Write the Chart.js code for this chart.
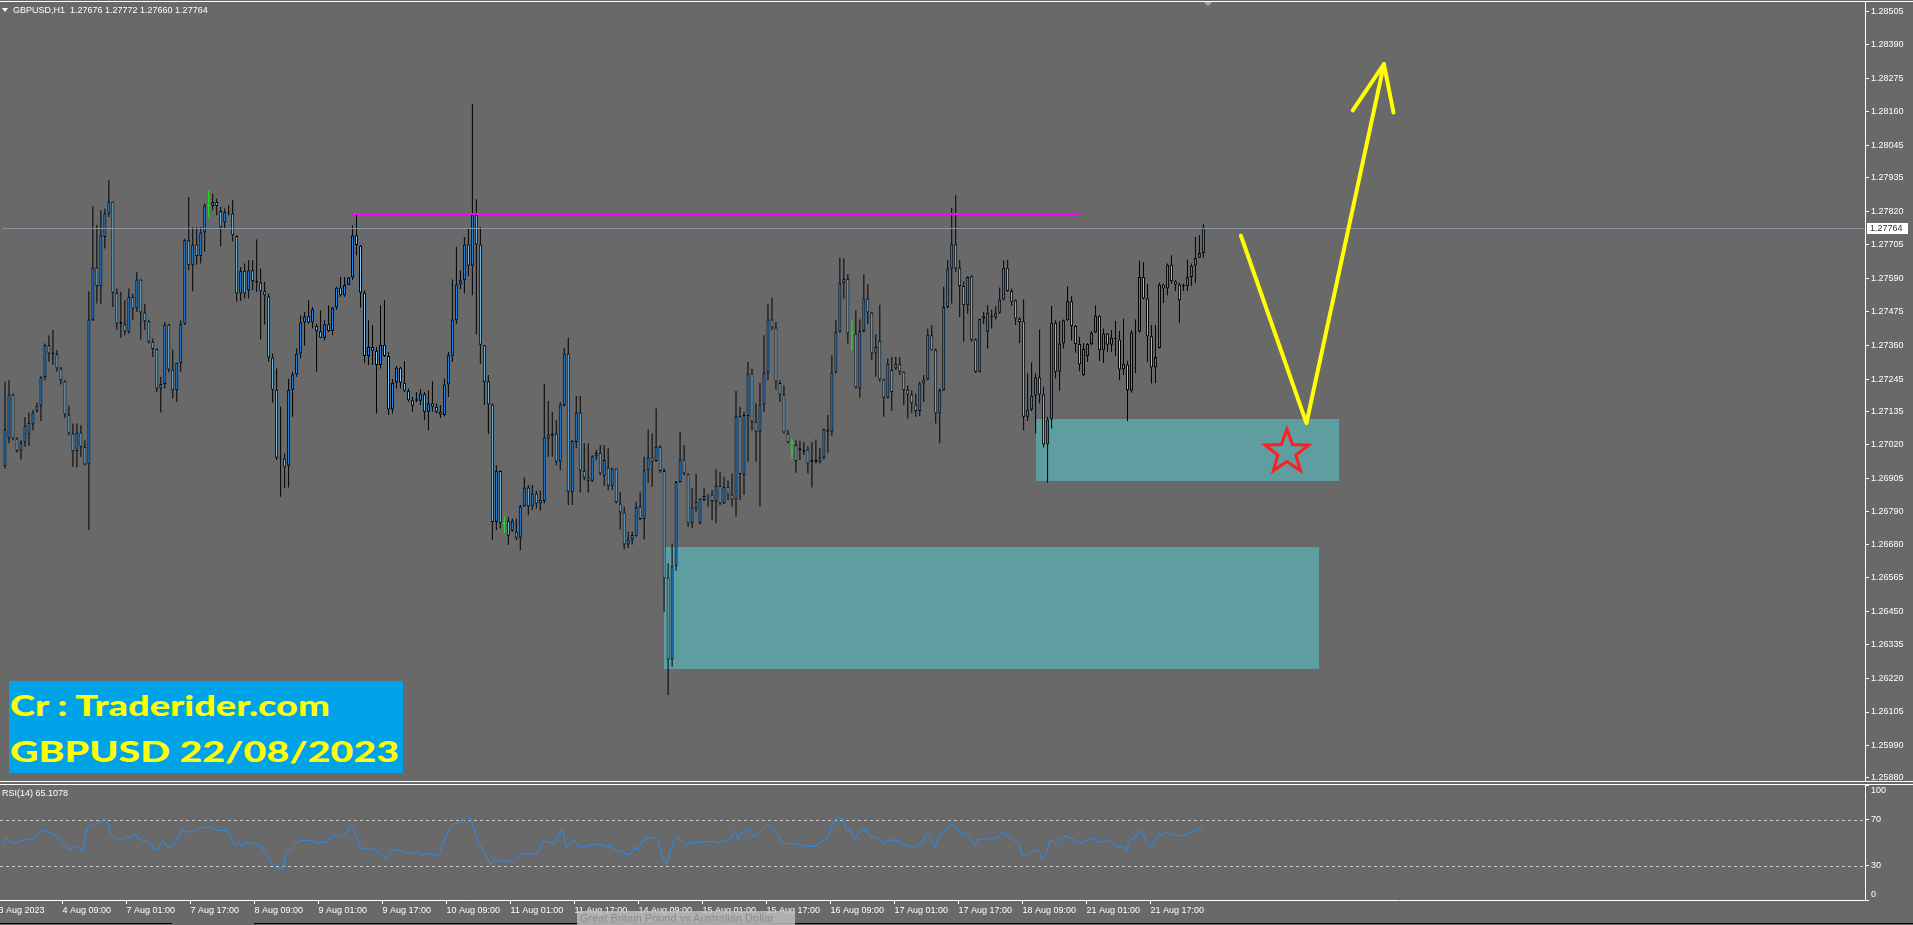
<!DOCTYPE html>
<html><head><meta charset="utf-8">
<script src="https://cdn.jsdelivr.net/npm/chart.js@4.4.1/dist/chart.umd.min.js"></script>
<style>
html,body{margin:0;padding:0;background:#696969;overflow:hidden;}
#wrap{position:relative;width:1913px;height:925px;background:#696969;}
canvas{position:absolute;left:0;top:0;}
.t{position:absolute;font-family:"Liberation Sans",Arial,sans-serif;font-size:9px;color:#fff;white-space:nowrap;line-height:11px;}
.hl{position:absolute;height:1px;background:#fff;}
#wm{position:absolute;left:9px;top:681px;width:394px;height:92px;background:#00a2e8;}
.wmt{position:absolute;left:1px;font-family:"Lato","DejaVu Sans",sans-serif;font-weight:900;font-size:29px;line-height:29px;color:#ffff00;white-space:nowrap;transform-origin:0 0;}
#tip{position:absolute;left:577px;top:911px;width:218px;height:14px;background:#bdbdbd;opacity:0.85;}
#tipt{position:absolute;left:580px;top:912px;font-family:"Liberation Sans",Arial,sans-serif;font-size:11px;line-height:13px;color:#8c8c8c;white-space:nowrap;}
</style></head>
<body>
<div id="wrap">
<canvas id="main" width="1913" height="925"></canvas>
<canvas id="rsi" width="1913" height="925"></canvas>
<div class="hl" style="left:0;top:1px;width:1913px;"></div>
<div class="hl" style="left:0;top:781px;width:1913px;"></div>
<div class="hl" style="left:0;top:784px;width:1913px;"></div>
<div class="hl" style="left:0;top:923px;width:172px;background:#000;"></div>
<div class="hl" style="left:254px;top:923px;width:1659px;background:#000;"></div>
<div style="position:absolute;left:2px;top:8px;width:0;height:0;border-left:3px solid transparent;border-right:3px solid transparent;border-top:4px solid #fff;"></div>
<div class="t" style="left:13px;top:5px;">GBPUSD,H1&nbsp; 1.27676 1.27772 1.27660 1.27764</div>
<div class="t" style="left:2px;top:788px;">RSI(14) 65.1078</div>
<div id="wm">
  <div class="wmt" id="wm1" style="top:9px;">Cr : Traderider.com</div>
  <div class="wmt" id="wm2" style="top:55px;">GBPUSD 22/08/2023</div>
</div>
<div id="tip"></div>
<div id="tipt">Great Britain Pound vs Australian Dollar</div>
</div>
<script>
// ---------- DATA ----------
const openP = [
1.26947,1.27042,1.27192,1.27042,1.27000,1.27028,1.27055,1.27090,1.27135,1.27154,
1.27251,1.27361,1.27335,1.27330,1.27281,1.27238,1.27124,1.27059,1.26998,1.27062,
1.27013,1.26953,1.27447,1.27627,1.27563,1.27732,1.27812,1.27853,1.27541,1.27435,
1.27433,1.27407,1.27527,1.27487,1.27586,1.27473,1.27443,1.27373,1.27348,1.27213,
1.27228,1.27432,1.27278,1.27207,1.27301,1.27435,1.27721,1.27635,1.27706,1.27667,
1.27747,1.27840,1.27838,1.27852,1.27821,1.27781,1.27815,1.27812,1.27735,1.27538,
1.27616,1.27549,1.27618,1.27581,1.27576,1.27546,1.27529,1.27319,1.27209,1.26976,
1.26973,1.26948,1.27209,1.27261,1.27333,1.27439,1.27460,1.27439,1.27427,1.27409,
1.27387,1.27433,1.27410,1.27490,1.27559,1.27532,1.27567,1.27593,1.27738,1.27702,
1.27541,1.27324,1.27355,1.27342,1.27293,1.27363,1.27324,1.27141,1.27233,1.27284,
1.27233,1.27205,1.27173,1.27171,1.27171,1.27193,1.27133,1.27162,1.27150,1.27133,
1.27122,1.27227,1.27325,1.27447,1.27569,1.27584,1.27706,1.27633,1.27808,1.27706,
1.27361,1.27238,1.27158,1.26756,1.26930,1.26751,1.26760,1.26726,1.26722,1.26702,
1.26810,1.26874,1.26810,1.26853,1.26819,1.26828,1.27042,1.27051,1.27059,1.26962,
1.27156,1.27333,1.26857,1.27030,1.27131,1.26931,1.26908,1.26897,1.26981,1.26993,
1.26914,1.26942,1.26880,1.26939,1.26819,1.26788,1.26679,1.26696,1.26709,1.26810,
1.26766,1.26933,1.26977,1.26965,1.27013,1.26930,1.26566,1.26285,1.26606,1.26893,
1.26970,1.26919,1.26751,1.26802,1.26751,1.26831,1.26848,1.26850,1.26825,1.26880,
1.26819,1.26876,1.26850,1.26833,1.27118,1.26916,1.27119,1.27264,1.27099,1.27065,
1.27158,1.27267,1.27449,1.27422,1.27232,1.27192,1.27059,1.27027,1.27019,1.27008,
1.27004,1.27004,1.26960,1.26968,1.26962,1.26977,1.27073,1.27065,1.27268,1.27407,
1.27575,1.27589,1.27403,1.27401,1.27213,1.27410,1.27521,1.27473,1.27333,1.27376,
1.27244,1.27181,1.27276,1.27281,1.27298,1.27270,1.27209,1.27192,1.27158,1.27136,
1.27230,1.27244,1.27395,1.27346,1.27127,1.27207,1.27492,1.27624,1.27707,1.27626,
1.27564,1.27498,1.27597,1.27381,1.27270,1.27452,1.27407,1.27456,1.27456,1.27472,
1.27518,1.27626,1.27547,1.27515,1.27452,1.27443,1.27116,1.27141,1.27188,1.27251,
1.27192,1.27021,1.27107,1.27438,1.27270,1.27367,1.27447,1.27512,1.27427,1.27365,
1.27259,1.27324,1.27365,1.27405,1.27462,1.27344,1.27401,1.27363,1.27387,1.27381,
1.27278,1.27295,1.27205,1.27405,1.27407,1.27595,1.27521,1.27392,1.27285,1.27352,
1.27569,1.27555,1.27637,1.27580,1.27569,1.27563,1.27563,1.27595,1.27633,1.27661,1.27677];

const highP = [
1.27236,1.27241,1.27196,1.27047,1.27036,1.27114,1.27131,1.27139,1.27164,1.27255,
1.27367,1.27395,1.27413,1.27344,1.27287,1.27241,1.27154,1.27093,1.27093,1.27087,
1.27036,1.27546,1.27837,1.27774,1.27823,1.27829,1.27926,1.27853,1.27555,1.27544,
1.27515,1.27555,1.27538,1.27612,1.27586,1.27502,1.27447,1.27384,1.27350,1.27253,
1.27441,1.27435,1.27346,1.27301,1.27447,1.27726,1.27869,1.27766,1.27766,1.27766,
1.27846,1.27892,1.27880,1.27863,1.27835,1.27829,1.27840,1.27858,1.27738,1.27629,
1.27641,1.27652,1.27652,1.27723,1.27624,1.27578,1.27538,1.27333,1.27281,1.27150,
1.26990,1.27245,1.27270,1.27350,1.27464,1.27475,1.27515,1.27492,1.27435,1.27481,
1.27447,1.27498,1.27492,1.27561,1.27595,1.27595,1.27595,1.27772,1.27812,1.27704,
1.27549,1.27447,1.27430,1.27355,1.27498,1.27515,1.27338,1.27245,1.27290,1.27287,
1.27306,1.27213,1.27184,1.27201,1.27211,1.27201,1.27207,1.27238,1.27162,1.27156,
1.27247,1.27338,1.27586,1.27698,1.27618,1.27732,1.27761,1.28188,1.27861,1.27766,
1.27361,1.27259,1.27162,1.26950,1.26933,1.26774,1.26774,1.26768,1.26768,1.26814,
1.26908,1.26882,1.26882,1.26863,1.26863,1.27228,1.27170,1.27133,1.27104,1.27167,
1.27352,1.27387,1.27036,1.27187,1.27187,1.27025,1.27025,1.26985,1.27002,1.27019,
1.27019,1.27008,1.26942,1.26939,1.26859,1.26808,1.26722,1.26722,1.26825,1.26857,
1.26979,1.27073,1.27059,1.27144,1.27019,1.26939,1.26614,1.26682,1.26896,1.27065,
1.27019,1.26922,1.26871,1.26920,1.26836,1.26871,1.26850,1.26865,1.26936,1.26928,
1.26911,1.26899,1.26922,1.27204,1.27150,1.27133,1.27304,1.27281,1.27162,1.27232,
1.27395,1.27504,1.27524,1.27441,1.27241,1.27224,1.27070,1.27042,1.27036,1.27034,
1.27030,1.27015,1.27030,1.27038,1.27010,1.27076,1.27122,1.27327,1.27447,1.27661,
1.27658,1.27604,1.27447,1.27481,1.27449,1.27604,1.27570,1.27475,1.27399,1.27500,
1.27247,1.27316,1.27321,1.27321,1.27321,1.27270,1.27224,1.27207,1.27196,1.27236,
1.27259,1.27418,1.27430,1.27350,1.27213,1.27561,1.27652,1.27831,1.27875,1.27654,
1.27580,1.27597,1.27601,1.27384,1.27452,1.27475,1.27498,1.27483,1.27495,1.27559,
1.27652,1.27654,1.27555,1.27518,1.27458,1.27518,1.27264,1.27302,1.27264,1.27415,
1.27219,1.27116,1.27495,1.27447,1.27444,1.27449,1.27563,1.27529,1.27430,1.27390,
1.27369,1.27369,1.27409,1.27498,1.27464,1.27418,1.27403,1.27413,1.27444,1.27410,
1.27452,1.27308,1.27413,1.27449,1.27650,1.27646,1.27572,1.27430,1.27430,1.27575,
1.27572,1.27641,1.27669,1.27584,1.27575,1.27572,1.27654,1.27641,1.27732,1.27738,1.27775];

const lowP = [
1.26939,1.27025,1.27036,1.26993,1.26970,1.27013,1.27017,1.27070,1.27130,1.27102,
1.27241,1.27304,1.27293,1.27270,1.27227,1.27112,1.27053,1.26945,1.26942,1.26979,
1.26950,1.26728,1.27444,1.27504,1.27502,1.27692,1.27800,1.27492,1.27413,1.27387,
1.27395,1.27401,1.27447,1.27475,1.27381,1.27413,1.27367,1.27321,1.27201,1.27131,
1.27213,1.27268,1.27179,1.27167,1.27270,1.27430,1.27618,1.27546,1.27637,1.27641,
1.27681,1.27800,1.27823,1.27806,1.27701,1.27761,1.27806,1.27717,1.27510,1.27513,
1.27521,1.27521,1.27549,1.27544,1.27381,1.27432,1.27304,1.27164,1.26968,1.26842,
1.26871,1.26874,1.27116,1.27253,1.27316,1.27359,1.27435,1.27418,1.27270,1.27386,
1.27378,1.27407,1.27395,1.27483,1.27527,1.27527,1.27567,1.27584,1.27669,1.27490,
1.27301,1.27293,1.27293,1.27127,1.27281,1.27321,1.27122,1.27127,1.27213,1.27213,
1.27201,1.27167,1.27133,1.27167,1.27156,1.27104,1.27070,1.27133,1.27127,1.27112,
1.27118,1.27184,1.27304,1.27435,1.27553,1.27538,1.27597,1.27532,1.27399,1.27298,
1.27156,1.27057,1.26694,1.26728,1.26734,1.26717,1.26677,1.26722,1.26694,1.26659,
1.26808,1.26779,1.26796,1.26802,1.26794,1.26819,1.26979,1.26979,1.26950,1.26933,
1.27150,1.26814,1.26814,1.27008,1.26857,1.26899,1.26857,1.26893,1.26968,1.26916,
1.26880,1.26865,1.26865,1.26819,1.26730,1.26662,1.26667,1.26679,1.26705,1.26762,
1.26696,1.26890,1.26876,1.26962,1.26924,1.26448,1.26163,1.26260,1.26589,1.26890,
1.26916,1.26739,1.26734,1.26791,1.26748,1.26828,1.26808,1.26762,1.26751,1.26814,
1.26817,1.26831,1.26808,1.26774,1.26831,1.26848,1.26962,1.27070,1.26962,1.26810,
1.27133,1.27241,1.27413,1.27209,1.27167,1.27059,1.27025,1.26973,1.26924,1.26968,
1.26985,1.26922,1.26874,1.26956,1.26956,1.26970,1.26993,1.27051,1.27264,1.27405,
1.27521,1.27367,1.27344,1.27213,1.27181,1.27405,1.27433,1.27310,1.27253,1.27236,
1.27116,1.27179,1.27136,1.27276,1.27259,1.27156,1.27110,1.27130,1.27116,1.27118,
1.27167,1.27241,1.27344,1.27093,1.27025,1.27204,1.27487,1.27504,1.27612,1.27458,
1.27373,1.27469,1.27373,1.27266,1.27268,1.27433,1.27350,1.27418,1.27449,1.27469,
1.27515,1.27544,1.27495,1.27430,1.27369,1.27070,1.27102,1.27136,1.27059,1.27162,
1.27011,1.26890,1.27076,1.27247,1.27205,1.27350,1.27444,1.27378,1.27335,1.27272,
1.27256,1.27304,1.27361,1.27403,1.27308,1.27301,1.27338,1.27338,1.27324,1.27241,
1.27259,1.27102,1.27198,1.27266,1.27405,1.27518,1.27304,1.27230,1.27232,1.27350,
1.27506,1.27532,1.27572,1.27547,1.27438,1.27547,1.27547,1.27563,1.27575,1.27661,1.27661];

const closeP = [
1.27073,1.27192,1.27042,1.27000,1.27028,1.27085,1.27096,1.27131,1.27154,1.27251,
1.27361,1.27333,1.27330,1.27281,1.27241,1.27124,1.27059,1.26998,1.27062,1.27013,
1.26953,1.27449,1.27627,1.27563,1.27738,1.27812,1.27853,1.27541,1.27435,1.27441,
1.27407,1.27527,1.27487,1.27586,1.27473,1.27443,1.27373,1.27348,1.27213,1.27228,
1.27432,1.27278,1.27207,1.27301,1.27435,1.27721,1.27635,1.27706,1.27667,1.27747,
1.27840,1.27840,1.27852,1.27838,1.27764,1.27818,1.27812,1.27738,1.27538,1.27616,
1.27538,1.27618,1.27581,1.27576,1.27546,1.27532,1.27319,1.27209,1.26976,1.26973,
1.26942,1.27209,1.27261,1.27333,1.27439,1.27460,1.27439,1.27484,1.27409,1.27387,
1.27433,1.27410,1.27490,1.27559,1.27532,1.27567,1.27593,1.27738,1.27704,1.27541,
1.27324,1.27355,1.27342,1.27293,1.27363,1.27324,1.27141,1.27233,1.27284,1.27233,
1.27205,1.27173,1.27154,1.27176,1.27196,1.27133,1.27162,1.27150,1.27133,1.27124,
1.27227,1.27327,1.27449,1.27569,1.27584,1.27706,1.27633,1.27808,1.27706,1.27363,
1.27236,1.27158,1.26756,1.26930,1.26751,1.26751,1.26709,1.26760,1.26702,1.26810,
1.26874,1.26810,1.26853,1.26819,1.26831,1.27045,1.27055,1.27059,1.26962,1.27158,
1.27333,1.26859,1.27033,1.27131,1.26931,1.26908,1.26897,1.26981,1.26993,1.26922,
1.26968,1.26880,1.26939,1.26823,1.26788,1.26679,1.26696,1.26711,1.26806,1.26766,
1.26933,1.26977,1.26962,1.27013,1.26930,1.26562,1.26285,1.26606,1.26893,1.26970,
1.26922,1.26751,1.26806,1.26825,1.26836,1.26845,1.26850,1.26828,1.26880,1.26819,
1.26876,1.26850,1.26833,1.27118,1.26920,1.27122,1.27264,1.27099,1.27065,1.27158,
1.27267,1.27449,1.27422,1.27236,1.27192,1.27062,1.27028,1.27027,1.26964,1.27002,
1.26996,1.26956,1.26968,1.26960,1.26977,1.27073,1.27065,1.27268,1.27407,1.27575,
1.27589,1.27401,1.27403,1.27216,1.27410,1.27521,1.27473,1.27333,1.27355,1.27244,
1.27181,1.27298,1.27201,1.27298,1.27270,1.27207,1.27192,1.27162,1.27136,1.27230,
1.27244,1.27398,1.27344,1.27127,1.27207,1.27492,1.27624,1.27707,1.27624,1.27564,
1.27498,1.27595,1.27378,1.27270,1.27452,1.27460,1.27472,1.27460,1.27472,1.27518,
1.27626,1.27547,1.27510,1.27452,1.27441,1.27116,1.27141,1.27188,1.27251,1.27192,
1.27021,1.27107,1.27438,1.27270,1.27367,1.27447,1.27512,1.27427,1.27365,1.27295,
1.27348,1.27365,1.27405,1.27462,1.27344,1.27401,1.27363,1.27387,1.27382,1.27278,
1.27298,1.27207,1.27405,1.27407,1.27595,1.27521,1.27392,1.27285,1.27321,1.27569,
1.27555,1.27637,1.27580,1.27569,1.27515,1.27567,1.27595,1.27633,1.27660,1.27677,1.27764];

const rsiValues = [
49.6,54.7,50.1,49.0,50.7,51.8,52.4,53.0,54.1,57.2,
60.9,59.5,58.1,56.7,54.7,48.7,45.9,43.9,47.3,45.3,
43.3,60.9,65.7,64.3,68.0,69.4,70.0,58.1,53.3,52.4,
52.4,55.8,53.8,57.5,53.0,51.8,50.7,48.7,43.9,44.5,
51.6,47.3,44.8,49.0,54.7,60.9,58.9,59.5,60.1,62.1,
63.2,63.2,63.2,61.5,60.1,60.9,60.4,55.2,47.3,50.4,
46.7,50.1,49.6,48.7,47.6,45.3,38.8,34.0,28.3,27.7,
26.9,42.5,43.9,47.6,51.0,51.8,51.6,52.4,50.1,49.3,
50.7,50.1,53.5,57.2,55.2,56.4,58.7,64.6,61.8,49.6,
43.9,45.0,43.6,44.5,41.6,38.2,36.5,41.6,43.3,43.6,
41.6,40.5,40.5,41.1,41.9,39.1,40.2,39.9,39.4,38.2,
47.3,56.1,63.2,66.0,67.4,70.0,66.6,71.4,60.9,49.6,
44.5,38.2,31.1,36.0,34.0,34.0,34.0,33.7,33.4,38.2,
40.5,39.9,39.9,40.5,41.6,50.4,51.0,49.6,49.0,56.1,
61.5,45.3,50.1,51.8,46.7,46.2,46.7,48.2,48.7,47.9,
47.9,45.9,46.7,43.9,43.0,41.6,39.6,39.6,45.3,44.5,
51.6,53.0,54.1,54.7,51.0,36.8,31.1,43.3,51.8,53.8,
51.0,46.7,49.6,50.1,50.4,50.4,50.7,51.0,51.0,49.6,
51.0,51.0,52.4,60.4,52.4,59.5,62.3,58.1,55.2,57.5,
61.5,65.2,63.8,58.9,56.1,49.6,49.0,49.0,48.7,48.2,
47.6,46.7,46.7,46.7,48.2,51.6,52.4,60.9,69.4,71.4,
70.9,60.9,60.9,51.8,58.1,60.9,60.4,54.7,54.7,53.8,
48.7,51.8,52.4,51.8,51.6,48.7,47.3,46.7,45.3,48.2,
50.1,58.1,54.7,45.3,53.0,58.1,62.3,65.7,62.9,60.9,
56.7,58.7,52.4,46.7,52.4,53.0,53.0,53.0,53.5,54.7,
58.7,55.8,53.8,51.0,49.6,38.2,39.6,41.1,43.9,42.5,
36.0,41.6,53.0,49.0,51.8,54.4,55.8,53.8,52.4,49.6,
50.1,51.6,53.0,53.8,50.1,50.7,51.6,51.0,48.2,46.7,
45.9,43.3,53.0,53.0,60.4,57.2,50.4,46.7,49.6,57.5,
56.7,59.5,56.7,56.7,56.1,55.8,57.5,58.9,60.4,60.9,65.1];

// tick labels
const priceTicks = [1.28505,1.28390,1.28275,1.28160,1.28045,1.27935,1.27820,1.27705,1.27590,1.27475,1.27360,1.27245,
  1.27135,1.27020,1.26905,1.26790,1.26680,1.26565,1.26450,1.26335,1.26220,1.26105,1.25990,1.25880];
const xTickBars = [-1,15,31,47,63,79,95,111,127,143,159,175,191,207,223,239,255,271,287];
const xTickLabels = ["3 Aug 2023","4 Aug 09:00","7 Aug 01:00","7 Aug 17:00","8 Aug 09:00","9 Aug 01:00","9 Aug 17:00",
  "10 Aug 09:00","11 Aug 01:00","11 Aug 17:00","14 Aug 09:00","15 Aug 01:00","15 Aug 17:00","16 Aug 09:00",
  "17 Aug 01:00","17 Aug 17:00","18 Aug 09:00","21 Aug 01:00","21 Aug 17:00"];
const rsiTicks = [100,70,30,0];
const rsiLevels = [70,30];

// drawn objects (bar index / price)
const zoneStartBar = [165, 258];
const zoneEndBar = [329, 334];
const zoneTop = [1.26670, 1.27110];
const zoneBottom = [1.26253, 1.26896];
const resistanceLevel = 1.27811;
const resistanceFrom = 87, resistanceTo = 269;
const arrowBars = [309.4, 325.8, 345.2];
const arrowPrices = [1.27736, 1.27094, 1.28324];
const arrowHeadBars = [337.4, 347.6];
const arrowHeadPrices = [1.28165, 1.28158];
const starBar = 320.9, starPrice = 1.26995;

// ---------- BUILD ----------
const BULL = '#1e90ff', BEAR = '#87cefa', DOJI = '#00ff00';
const XMIN = -0.625, XMAX = 465.625;
const YMIN = 1.258687, YMAX = 1.285348;
const FONT = {family: '"Liberation Sans", Arial, sans-serif', size: 9};
const idx = closeP.map((_, i) => i);
const isDoji = i => openP[i] === closeP[i];
const wickData = idx.map(i => ({x: i, y: [lowP[i], highP[i]]}));
const wickColors = idx.map(i => isDoji(i) ? DOJI : '#000000');
const bodyIdx = idx.filter(i => !isDoji(i));
const bodyData = bodyIdx.map(i => ({x: i, y: [Math.min(openP[i], closeP[i]), Math.max(openP[i], closeP[i])]}));
const bodyColors = bodyIdx.map(i => closeP[i] > openP[i] ? BULL : BEAR);
const dojiData = idx.filter(isDoji).map(i => ({x: i, y: openP[i]}));

const backPlugin = {
  id: 'backObjects',
  beforeDatasetsDraw(chart) {
    const {ctx, scales: {x, y}} = chart;
    ctx.save();
    ctx.fillStyle = '#5f9ea0';
    for (let k = 0; k < zoneStartBar.length; k++) {
      const x1 = Math.round(x.getPixelForValue(zoneStartBar[k]));
      const x2 = Math.round(x.getPixelForValue(zoneEndBar[k]));
      const y1 = Math.round(y.getPixelForValue(zoneTop[k]));
      const y2 = Math.round(y.getPixelForValue(zoneBottom[k]));
      ctx.fillRect(x1, y1, x2 - x1, y2 - y1);
    }
    ctx.restore();
  }
};

const frontPlugin = {
  id: 'frontObjects',
  afterDatasetsDraw(chart) {
    const {ctx, scales: {x, y}, chartArea} = chart;
    ctx.save();
    const last = closeP[closeP.length - 1];
    const py = Math.round(y.getPixelForValue(last)) + 0.5;
    ctx.strokeStyle = '#8494a4';
    ctx.lineWidth = 1;
    ctx.beginPath(); ctx.moveTo(chartArea.left, py); ctx.lineTo(chartArea.right, py); ctx.stroke();
    const ry = Math.round(y.getPixelForValue(resistanceLevel));
    ctx.strokeStyle = '#ff00ff';
    ctx.lineWidth = 2;
    ctx.beginPath();
    ctx.moveTo(x.getPixelForValue(resistanceFrom), ry);
    ctx.lineTo(x.getPixelForValue(resistanceTo), ry);
    ctx.stroke();
    ctx.strokeStyle = '#ffff00';
    ctx.lineWidth = 4;
    ctx.lineCap = 'round';
    ctx.lineJoin = 'round';
    ctx.beginPath();
    arrowBars.forEach((b, k) => {
      const px = x.getPixelForValue(b), pyy = y.getPixelForValue(arrowPrices[k]);
      if (k === 0) ctx.moveTo(px, pyy); else ctx.lineTo(px, pyy);
    });
    ctx.stroke();
    const tipX = x.getPixelForValue(arrowBars[2]), tipY = y.getPixelForValue(arrowPrices[2]);
    ctx.beginPath();
    ctx.moveTo(x.getPixelForValue(arrowHeadBars[0]), y.getPixelForValue(arrowHeadPrices[0]));
    ctx.lineTo(tipX, tipY);
    ctx.lineTo(x.getPixelForValue(arrowHeadBars[1]), y.getPixelForValue(arrowHeadPrices[1]));
    ctx.stroke();
    const cx = x.getPixelForValue(starBar), cy = y.getPixelForValue(starPrice);
    const R = 23, r = 9.5;
    ctx.strokeStyle = '#ff1f1f';
    ctx.lineWidth = 3;
    ctx.lineJoin = 'miter';
    ctx.beginPath();
    for (let k = 0; k < 10; k++) {
      const a = -Math.PI / 2 + k * Math.PI / 5;
      const rr = k % 2 === 0 ? R : r;
      const px = cx + rr * Math.cos(a), pyy = cy + rr * Math.sin(a);
      if (k === 0) ctx.moveTo(px, pyy); else ctx.lineTo(px, pyy);
    }
    ctx.closePath();
    ctx.stroke();
    ctx.restore();
  },
  afterDraw(chart) {
    const {ctx, scales: {y}, chartArea} = chart;
    const last = closeP[closeP.length - 1];
    const py = Math.round(y.getPixelForValue(last));
    ctx.save();
    ctx.fillStyle = '#ffffff';
    ctx.fillRect(chartArea.right + 2, py - 5, 41, 11);
    ctx.fillStyle = '#303030';
    ctx.font = '9px "Liberation Sans", Arial, sans-serif';
    ctx.textBaseline = 'middle';
    ctx.textAlign = 'left';
    ctx.fillText(last.toFixed(5), chartArea.right + 5, py + 0.5);
    ctx.fillStyle = '#a9a9a9';
    ctx.beginPath(); ctx.moveTo(1204, 2); ctx.lineTo(1212, 2); ctx.lineTo(1208, 6); ctx.closePath(); ctx.fill();
    ctx.restore();
  }
};

new Chart(document.getElementById('main'), {
  type: 'bar',
  data: {
    datasets: [
      {type: 'bar', data: wickData, backgroundColor: wickColors, borderWidth: 0, barThickness: 1,
       grouped: false, inflateAmount: 0, order: 3},
      {type: 'bar', data: bodyData, backgroundColor: bodyColors, borderColor: '#000000', borderWidth: 1,
       borderSkipped: false, barThickness: 3, grouped: false, inflateAmount: 0, order: 2},
      {type: 'scatter', data: dojiData, pointStyle: 'line', pointRadius: 1.5, pointHoverRadius: 1.5,
       borderColor: DOJI, pointBorderColor: DOJI, borderWidth: 1, order: 1}
    ]
  },
  options: {
    responsive: false, animation: false, devicePixelRatio: 1,
    layout: {padding: {top: 2, bottom: 144, left: 0, right: 0}},
    plugins: {legend: {display: false}, tooltip: {enabled: false}},
    events: [],
    scales: {
      x: {type: 'linear', min: XMIN, max: XMAX, display: false, offset: false},
      y: {type: 'linear', position: 'right', min: YMIN, max: YMAX,
          afterBuildTicks: s => { s.ticks = priceTicks.map(v => ({value: v})); },
          afterFit: s => { s.width = 48; s.paddingTop = 0; s.paddingBottom = 0; },
          ticks: {callback: v => Number(v).toFixed(5), color: '#ffffff', font: FONT, padding: 2, autoSkip: false},
          grid: {drawOnChartArea: false, drawTicks: true, tickLength: 4, color: '#ffffff'},
          border: {display: true, color: '#ffffff', width: 1}}
    }
  },
  plugins: [backPlugin, frontPlugin]
});

const rsiPlugin = {
  id: 'rsiLevels',
  beforeDatasetsDraw(chart) {
    const {ctx, scales: {y}, chartArea} = chart;
    ctx.save();
    ctx.strokeStyle = '#c8c8c8';
    ctx.lineWidth = 1;
    ctx.setLineDash([3, 3]);
    rsiLevels.forEach(l => {
      const py = Math.round(y.getPixelForValue(l)) + 0.5;
      ctx.beginPath(); ctx.moveTo(chartArea.left, py); ctx.lineTo(chartArea.right, py); ctx.stroke();
    });
    ctx.restore();
  }
};

new Chart(document.getElementById('rsi'), {
  type: 'line',
  data: {
    datasets: [{data: idx.map(i => ({x: i, y: rsiValues[i]})), borderColor: '#1e90ff', borderWidth: 1,
      pointRadius: 0, tension: 0, fill: false}]
  },
  options: {
    responsive: false, animation: false, devicePixelRatio: 1,
    layout: {padding: {top: 785, bottom: 0, left: 0, right: 0}},
    plugins: {legend: {display: false}, tooltip: {enabled: false}},
    events: [],
    scales: {
      x: {type: 'linear', position: 'bottom', min: XMIN, max: XMAX, offset: false,
          afterBuildTicks: s => { s.ticks = xTickBars.map(v => ({value: v})); },
          afterFit: s => { s.height = 25; s.paddingLeft = 0; s.paddingRight = 0; },
          ticks: {callback: (v, i) => xTickLabels[i], align: 'start', color: '#ffffff', font: FONT,
                  padding: 1, autoSkip: false, maxRotation: 0, minRotation: 0},
          grid: {drawOnChartArea: false, drawTicks: true, tickLength: 4, color: '#ffffff'},
          border: {display: true, color: '#ffffff', width: 1}},
      y: {type: 'linear', position: 'right', min: 0, max: 100,
          afterBuildTicks: s => { s.ticks = rsiTicks.map(v => ({value: v})); },
          afterFit: s => { s.width = 48; s.paddingTop = 0; s.paddingBottom = 0; },
          ticks: {callback: v => v === 100 ? ['', '100'] : (v === 0 ? ['0', ''] : String(v)),
                  color: '#ffffff', font: FONT, padding: 2, autoSkip: false},
          grid: {drawOnChartArea: false, drawTicks: true, tickLength: 4, color: '#ffffff'},
          border: {display: true, color: '#ffffff', width: 1}}
    }
  },
  plugins: [rsiPlugin]
});

function fitW(id, w) {
  const el = document.getElementById(id);
  const cur = el.getBoundingClientRect().width;
  if (cur > 0) el.style.transform = 'scaleX(' + (w / cur) + ')';
}
fitW('wm1', 320);
fitW('wm2', 389);
</script>
</body></html>
